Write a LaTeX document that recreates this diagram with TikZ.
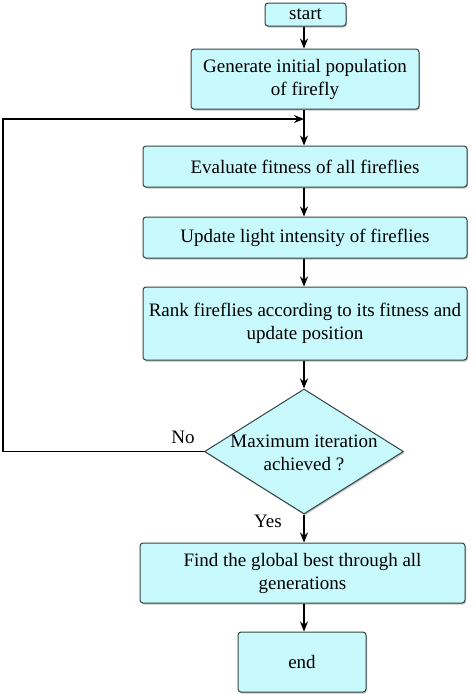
\documentclass[tikz,border=0pt]{standalone}
\usepackage{fontspec}
\setmainfont{Liberation Serif}
\usetikzlibrary{shapes.geometric,arrows.meta,shadows}
\definecolor{boxfill}{HTML}{C8F9FC}
\definecolor{boxline}{HTML}{354545}
\begin{document}
\begin{tikzpicture}[x=1pt,y=-1pt,
  box/.style={draw=boxline,line width=1pt,fill=boxfill,rounded corners=3pt,align=center,inner sep=0pt,
    font=\fontsize{19}{23}\selectfont,
    drop shadow={shadow xshift=1pt,shadow yshift=-1.5pt,fill=gray!60,opacity=0.8}},
  arr/.style={line width=1.3pt,-{Stealth[length=10pt,width=8pt]}},
  lbl/.style={font=\fontsize{19}{23}\selectfont,inner sep=0pt}]
\useasboundingbox (0,0) rectangle (474,694);
\node[box,minimum width=81pt,minimum height=23pt] (start) at (305.5,14.5) {start};
\node[box,minimum width=228pt,minimum height=60pt] (gen) at (305,79) {Generate initial population\\of firefly};
\node[box,minimum width=324pt,minimum height=41pt] (eval) at (305,166.5) {Evaluate fitness of all fireflies};
\node[box,minimum width=324pt,minimum height=41pt] (upd) at (305,237.5) {Update light intensity of fireflies};
\node[box,minimum width=324pt,minimum height=73pt] (rank) at (305,323.5) {Rank fireflies according to its fitness and\\update position};
\node[diamond,draw=boxline,line width=1pt,fill=boxfill,inner sep=0pt,minimum width=199pt,minimum height=125pt,
  drop shadow={shadow xshift=1pt,shadow yshift=-1.5pt,fill=gray!60,opacity=0.8}] (dec) at (304,451.5) {};
\node[lbl,align=center] (dectext) at (304,453) {Maximum iteration\\achieved ?};
\node[box,minimum width=325pt,minimum height=60pt] (find) at (302.5,573) {Find the global best through all\\generations};
\node[box,minimum width=128pt,minimum height=60pt] (end) at (302,662) {end};
\coordinate (j) at (304,119);
\coordinate (lt) at (3,119);
\coordinate (lb) at (3,451.5);
\draw[arr] (start.south -| j) -- (gen.north -| j);
\draw[arr] (gen.south -| j) -- (eval.north -| j);
\draw[arr] (eval.south -| j) -- (upd.north -| j);
\draw[arr] (upd.south -| j) -- (rank.north -| j);
\draw[arr] (rank.south -| j) -- (dec.north);
\draw[arr] (dec.south) -- (find.north -| j);
\draw[arr] (find.south -| j) -- (end.north -| j);
\draw[arr] (dec.west) -- (lb) -- (lt) -- (j);
\node[lbl] (no) at (183,437) {No};
\node[lbl] (yes) at (268,521) {Yes};
\end{tikzpicture}
\end{document}
